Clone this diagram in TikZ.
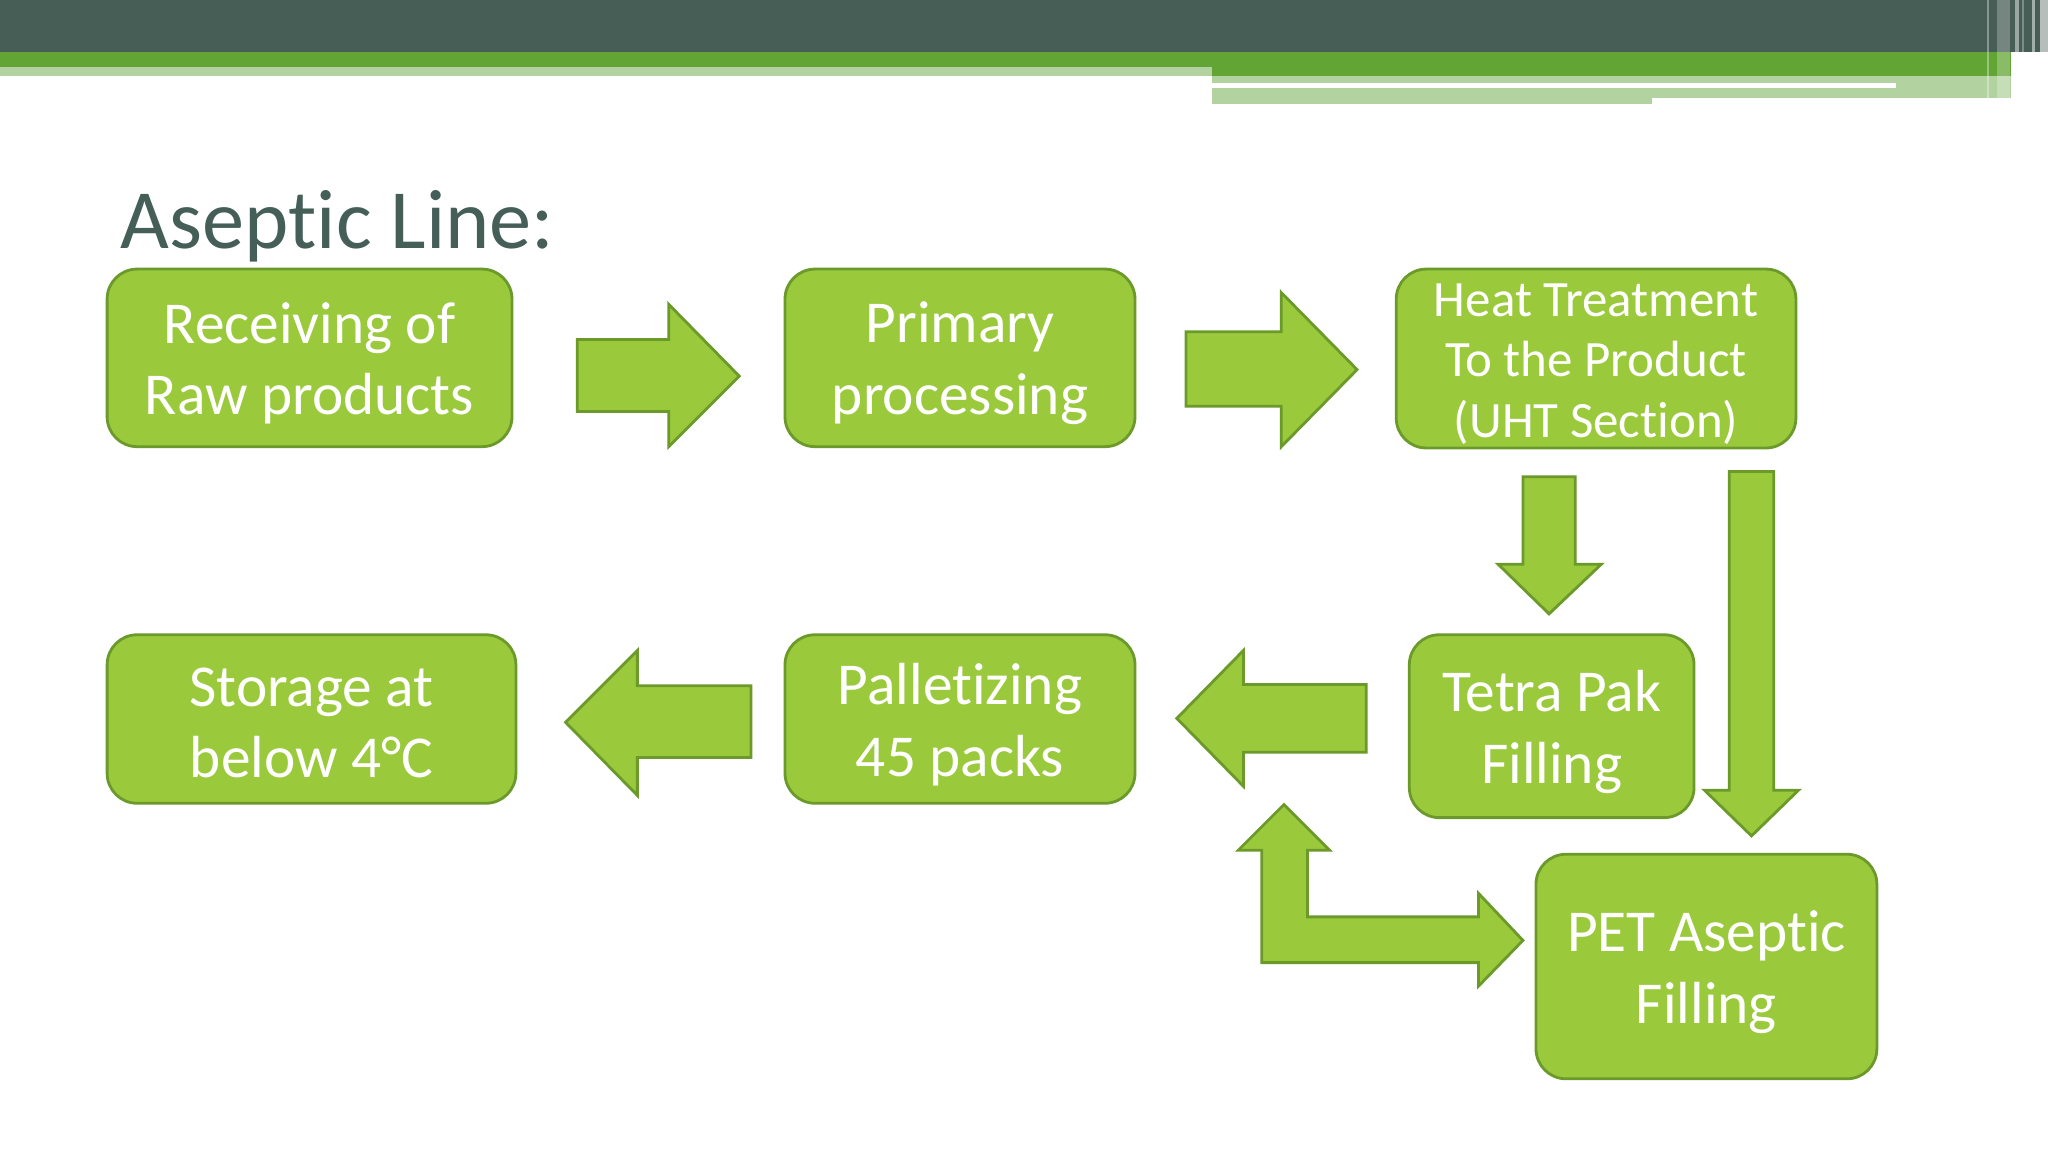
\documentclass[tikz,border=0pt]{standalone}
\usepackage{fontspec}
\setmainfont{Carlito}[Ligatures=NoCommon]
\definecolor{bannerdark}{HTML}{465E55}
\definecolor{bannergreen}{HTML}{63A535}
\definecolor{bannerlight}{HTML}{B2D3A0}
\definecolor{titlecol}{HTML}{455F58}
\definecolor{boxgreen}{HTML}{9ACA3C}
\definecolor{edgegreen}{HTML}{6B9A2B}

\begin{document}
\begin{tikzpicture}[
  x=0.0130612cm, y=-0.0130612cm,
  box/.style={
    draw=edgegreen,
    fill=boxgreen,
    line width=0.8pt,
    rounded corners=0.3cm,
    inner sep=0pt
  },
  boxtext/.style={
    text=white,
    align=center,
    inner sep=0pt,
    yshift=-1.6pt,
    font=\fontsize{16.9}{20.4}\selectfont
  },
  smalltext/.style={boxtext, font=\fontsize{14.5}{17.3}\selectfont},
  blk/.style={fill=boxgreen, draw=edgegreen, line width=0.8pt, line join=miter}
]
\useasboundingbox (0,0) rectangle (1568,882);
\fill[white] (0,0) rectangle (1568,882);

% banner
\fill[bannerdark] (0,0) rectangle (1568,40);
\fill[bannergreen] (0,40) rectangle (1540,51);
\fill[bannergreen] (928,51) rectangle (1540,58);
\fill[bannerlight] (0,51) rectangle (928,58);
\fill[bannerlight] (928,58) rectangle (1265,80);
\fill[bannerlight] (1265,58) rectangle (1540,75);
\fill[white] (928,63.6) rectangle (1452,67.5);
\fill[white, opacity=0.35] (1521,0) rectangle (1523,80);
\fill[white, opacity=0.25] (1529,0) rectangle (1539,80);
\fill[white, opacity=0.45] (1543,0) rectangle (1546,80);
\fill[white, opacity=0.3] (1548,0) rectangle (1550,80);
\fill[white, opacity=0.5] (1556,0) rectangle (1558,80);
\fill[white, opacity=0.6] (1562,0) rectangle (1568,80);

\node[anchor=base west, text=titlecol, inner sep=0pt, font=\fontsize{24.0}{30}\selectfont] (title) at (92,190) {Aseptic Line:};

\node[box, minimum width=4.049cm, minimum height=1.776cm,
  label={[boxtext]center:Receiving of\\Raw products}] (recv) at (237,274) {};
\node[box, minimum width=3.500cm, minimum height=1.776cm,
  label={[boxtext]center:Primary\\processing}] (prim) at (735,274) {};
\node[box, minimum width=3.997cm, minimum height=1.789cm,
  label={[smalltext]center:Heat Treatment\\To the Product\\(UHT Section)}] (heat) at (1222,274.5) {};
\node[box, minimum width=4.088cm, minimum height=1.685cm,
  label={[boxtext, yshift=0.5pt]center:Storage at\\below 4°C}] (store) at (238.5,550.5) {};
\node[box, minimum width=3.500cm, minimum height=1.685cm,
  label={[boxtext]center:Palletizing\\45 packs}] (pallet) at (735,550.5) {};
\node[box, minimum width=2.847cm, minimum height=1.829cm,
  label={[boxtext]center:Tetra Pak\\Filling}] (tetra) at (1188,556) {};
\node[box, minimum width=3.409cm, minimum height=2.246cm,
  label={[boxtext]center:PET Aseptic\\Filling}] (pet) at (1306.5,740) {};

% block arrows
\draw[blk] (442,260) -- (512,260) -- (512,233) -- (566,288) -- (512,342) -- (512,315) -- (442,315) -- cycle;
\draw[blk] (908,254) -- (981,254) -- (981,224) -- (1039,283) -- (981,342) -- (981,311) -- (908,311) -- cycle;
\draw[blk] (1166,365) -- (1206,365) -- (1206,432) -- (1226,432) -- (1186,470) -- (1147,432) -- (1166,432) -- cycle;
\draw[blk] (1324,361) -- (1358,361) -- (1358,605) -- (1377,605) -- (1341,640) -- (1305,605) -- (1324,605) -- cycle;
\draw[blk] (575,525) -- (488,525) -- (488,498) -- (433,553) -- (488,609) -- (488,580) -- (575,580) -- cycle;
\draw[blk] (1046,524) -- (952,524) -- (952,498) -- (901,550) -- (952,602) -- (952,576) -- (1046,576) -- cycle;
\draw[blk] (966,737) -- (966,651) -- (948,651) -- (983,616) -- (1018,651) -- (1001,651) -- (1001,702) -- (1132,702) -- (1132,684) -- (1166,720) -- (1132,755) -- (1132,737) -- cycle;
\end{tikzpicture}
\end{document}
